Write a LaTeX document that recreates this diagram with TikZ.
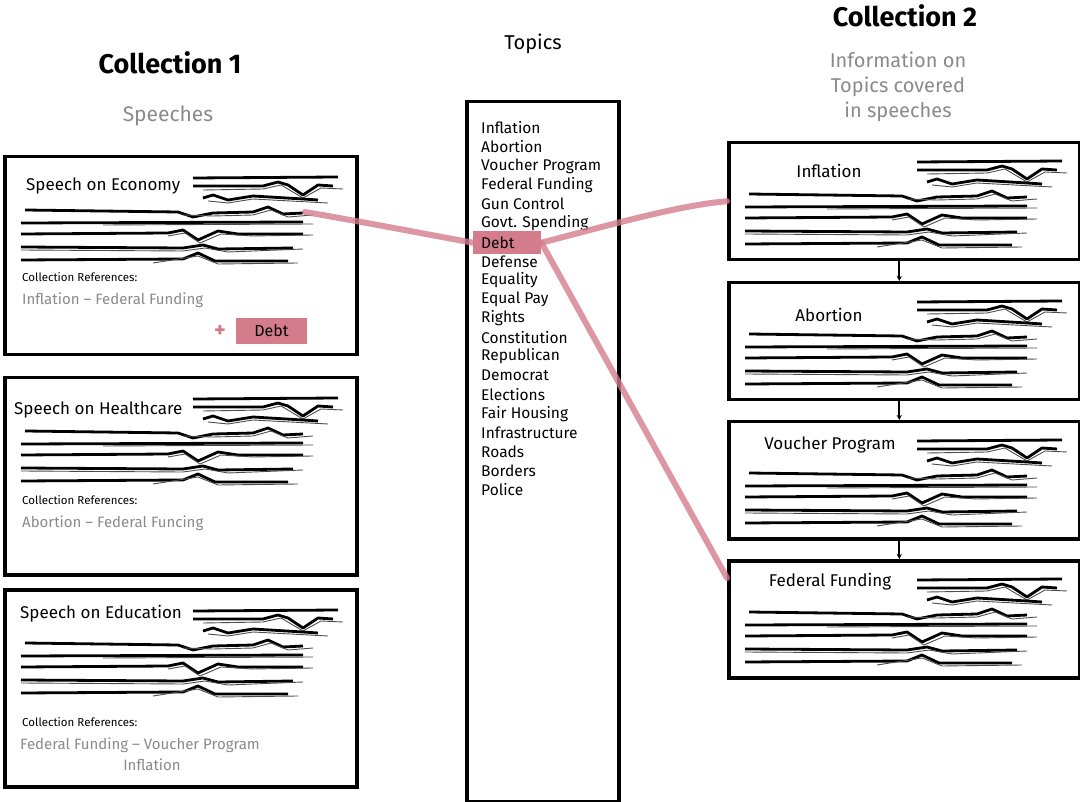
\documentclass[tikz,border=0pt]{standalone}
\usepackage{fontspec}
\setmainfont{Fira Sans}
\usetikzlibrary{arrows.meta}
\definecolor{pk}{HTML}{D47C8C}
\definecolor{gtxt}{HTML}{8A8A8A}
\tikzset{
 box/.style={draw=black,line width=3.5pt,minimum width=352pt,anchor=north west,inner sep=0pt},
 rbox/.style={draw=black,line width=3.5pt,minimum width=351pt,minimum height=117pt,anchor=north west,inner sep=0pt},
 ttl/.style={font=\fontsize{17}{18}\selectfont,anchor=west,inner sep=0pt},
 ref/.style={font=\fontsize{11.5}{13}\selectfont,anchor=west,inner sep=0pt},
 gref/.style={font=\fontsize{15}{16}\selectfont,text=gtxt,anchor=west,inner sep=0pt},
 top/.style={font=\fontsize{15.5}{16}\selectfont,anchor=west,inner sep=0pt},
 brush/.style={draw=pk,line width=6pt,opacity=0.8,line cap=round},
 scr/.style={line width=2.8pt,line join=round},
 scrt/.style={line width=0.9pt,draw=black!70},
 scrib/.pic={
  \draw[scr] (190,23)--(335,22);
  \draw[scr] (190,31)--(260,31)--(275,27)--(285,30)--(300,40)--(315,30)--(330,31);
  \draw[scrt] (200,35)--(260,34)--(278,30)--(300,43)--(318,33)--(340,34);
  \draw[scr] (200,43)--(210,40)--(225,45)--(250,41)--(300,44)--(315,45);
  \draw[scrt] (205,46)--(225,48)--(250,44)--(325,48);
  \draw[scr] (22,55)--(175,57)--(190,62)--(210,58)--(250,57)--(265,52)--(280,59)--(300,58);
  \draw[scrt] (180,60)--(210,61)--(250,60)--(268,55)--(285,62)--(310,60);
  \draw[scr] (18,68)--(300,67);
  \draw[scrt] (100,70)--(310,69);
  \draw[scr] (18,79)--(165,78)--(180,75)--(195,85)--(215,76)--(235,79)--(300,79);
  \draw[scrt] (165,81)--(182,78)--(197,88)--(218,79)--(250,81)--(310,80);
  \draw[scr] (18,92)--(180,93)--(200,90)--(215,94)--(290,93);
  \draw[scrt] (18,95)--(180,96)--(202,93)--(225,97)--(300,94);
  \draw[scr] (18,105)--(180,104)--(195,98)--(212,106)--(285,106);
  \draw[scrt] (150,108)--(195,101)--(215,109)--(295,108);
 }
}
\begin{document}
\begin{tikzpicture}[x=1pt,y=-1pt]
\useasboundingbox (0,0) rectangle (1080,802);
\node[font=\bfseries\fontsize{27}{28}\selectfont] (c1) at (170,63) {Collection 1};
\node[font=\fontsize{21}{22}\selectfont,text=gtxt] (sp) at (168,116) {Speeches};
\node[font=\fontsize{20}{21}\selectfont] (tp) at (533,44) {Topics};
\node[font=\bfseries\fontsize{27}{28}\selectfont] (c2) at (905,16) {Collection 2};
\node[font=\fontsize{20}{25}\selectfont,text=gtxt,align=center] (info) at (898,87) {Information on\\Topics covered\\in speeches};
\node[box,minimum height=198pt] (b1) at (3,155) {};
\node[box,minimum height=197pt] (b2) at (3,376) {};
\node[box,minimum height=197pt] (b3) at (3,588) {};
\pic at (3,155) {scrib};
\pic at (3,376) {scrib};
\pic at (3,588) {scrib};
\node[ttl] (t1) at (26,186) {Speech on Economy};
\node[ttl] (t2) at (14,410) {Speech on Healthcare};
\node[ttl] (t3) at (20,614) {Speech on Education};
\node[ref] (r1a) at (22,277) {Collection References:};
\node[gref] (r1b) at (22,300) {Inflation – Federal Funding};
\node[font=\bfseries\fontsize{22}{22}\selectfont,text=pk] (plus) at (220,331) {+};
\node[fill=pk,minimum width=71pt,minimum height=26pt,inner sep=0pt,font=\fontsize{16}{16}\selectfont] (d1) at (271.5,331) {Debt};
\node[ref] (r2a) at (22,500) {Collection References:};
\node[gref] (r2b) at (22,523) {Abortion – Federal Funcing};
\node[ref] (r3a) at (22,722) {Collection References:};
\node[gref] (r3b) at (20,745) {Federal Funding – Voucher Program};
\node[gref,anchor=center] (r3c) at (152,765) {Inflation};
\node[draw=black,line width=3.5pt,minimum width=152pt,minimum height=700pt,anchor=north west,inner sep=0pt] (mid) at (465,100) {};
\node[fill=pk,minimum width=68pt,minimum height=23pt,anchor=north west,inner sep=0pt] (debt) at (473,231) {};
\foreach \t [count=\i from 0] in {Inflation,Abortion,Voucher Program,Federal Funding,Gun Control,Govt. Spending,Debt,Defense,Equality,Equal Pay,Rights,Constitution,Republican,Democrat,Elections,Fair Housing,Infrastructure,Roads,Borders,Police}
  \node[top] (tp\i) at (481,128+19.05*\i) {\t};
\node[rbox] (q1) at (727,141) {};
\node[rbox] (q2) at (727,281) {};
\node[rbox] (q3) at (727,420) {};
\node[rbox] (q4) at (727,559) {};
\foreach \y in {141,281,420,559} \pic at (727,\y-2) {scrib};
\node[ttl,anchor=center] (u1) at (829,171) {Inflation};
\node[ttl,anchor=center] (u2) at (829,315) {Abortion};
\node[ttl,anchor=center] (u3) at (830,445) {Voucher Program};
\node[ttl,anchor=center] (u4) at (830,582) {Federal Funding};
\foreach \a/\b in {q1/q2,q2/q3,q3/q4}
  \draw[line width=1.6pt,-{Stealth[length=5pt,width=5pt]}] ([xshift=-5pt]\a.south) -- ([xshift=-5pt]\b.north);
\coordinate (s1) at (305,212);
\coordinate (e4) at (727,578);
\draw[brush] (s1) .. controls (380,225) and (430,235) .. (debt.west);
\draw[brush] (debt.east) .. controls (610,225) and (680,205) .. (q1.west);
\draw[brush] (debt.east) -- (e4);
\end{tikzpicture}
\end{document}
